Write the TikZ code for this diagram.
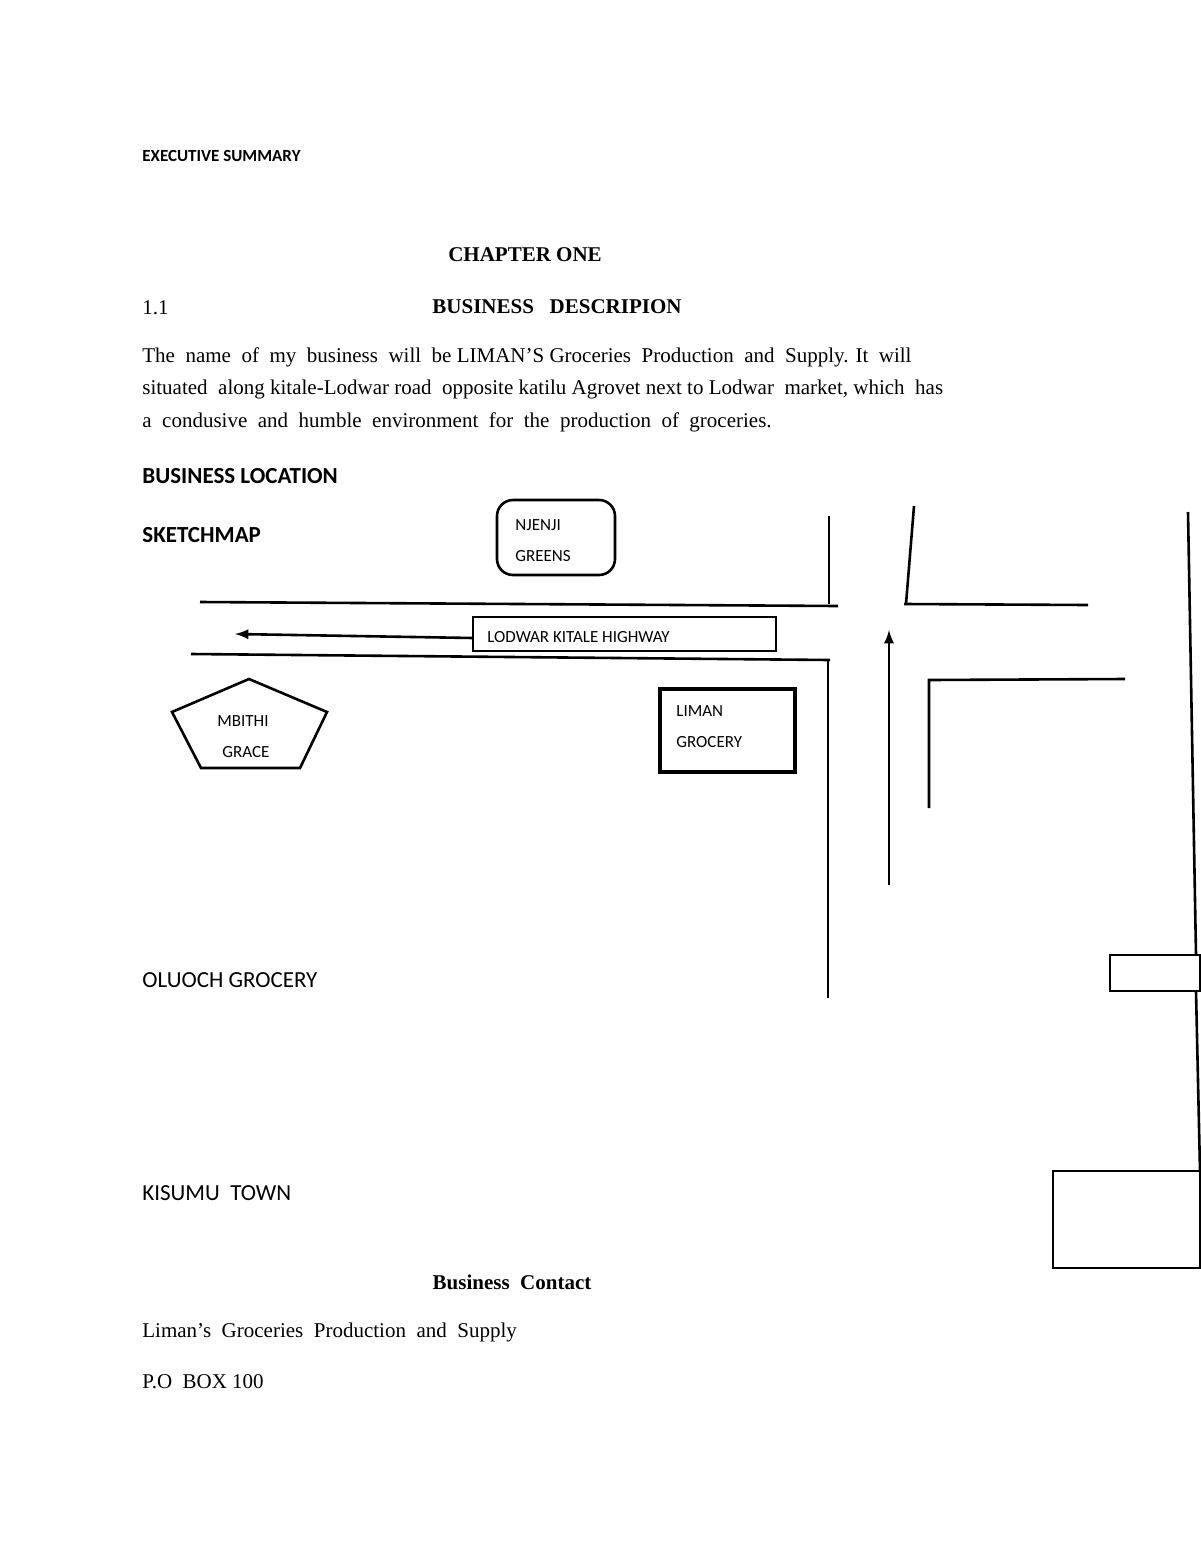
\documentclass[tikz,border=0pt]{standalone}
\usepackage{fontspec}
\setmainfont{Liberation Serif}
\newfontfamily\calib{Carlito}
\begin{document}
\begin{tikzpicture}[x=0.5pt,y=-0.5pt,
  ln/.style={line width=1.3pt},
  tx/.style={anchor=west,inner sep=0pt},
  sm/.style={tx,font=\calib\fontsize{8.5}{10}\selectfont},
  body/.style={tx,font=\fontsize{10.5}{12}\selectfont}]
\useasboundingbox (0,0) rectangle (1200,1553);
\node[tx,font=\calib\bfseries\fontsize{8.5}{10}\selectfont] (es) at (142,156) {EXECUTIVE SUMMARY};
\node[font=\bfseries\fontsize{10.5}{12}\selectfont] (ch) at (525,255) {CHAPTER ONE};
\node[body] (n11) at (142,308) {1.1};
\node[font=\bfseries\fontsize{10.5}{12}\selectfont] (bd) at (557,307) {BUSINESS\ \ \ DESCRIPION};
\node[body,text width=450pt,align=justify] (p1) at (142,358) {The\ \ name\ \ of\ \ my\ \ business\ \ will\ \ be LIMAN'S Groceries\ \ Production\ \ and\ \ Supply. It\ \ will\strut};
\node[body,text width=452pt,align=justify] (p2) at (142,390) {situated\ \ along kitale-Lodwar road\ \ opposite katilu Agrovet next to Lodwar\ \ market, which\ \ has\strut};
\node[body] (p3) at (142,422) {a\ \ condusive\ \ and\ \ humble\ \ environment\ \ for\ \ the\ \ production\ \ of\ \ groceries.};
\node[tx,font=\calib\bfseries\fontsize{11.5}{13}\selectfont] (bl) at (142,476) {BUSINESS LOCATION};
\node[tx,font=\calib\bfseries\fontsize{11.5}{13}\selectfont] (skm) at (142,535) {SKETCHMAP};
% NJENJI
\draw[ln,rounded corners=8pt] (497,500) rectangle (615,575);
\node[sm] (nj1) at (515,525) {NJENJI};
\node[sm] (nj2) at (515,556) {GREENS};
% roads
\draw[ln] (200,602) -- (838,606);
\draw[ln] (191,654) -- (830,660);
\draw[ln] (829,516) -- (829,604);
\draw[ln] (828,660) -- (828,998);
\draw[ln] (914,506) -- (906,604);
\draw[ln] (904,604) -- (1088,605);
\draw[ln] (1125,679) -- (929,680) -- (929,808);
\draw[ln,-latex] (889,885) -- (889,630);
\coordinate (al) at (235,634);
\draw[ln] (473,617) rectangle (776,651);
\node[sm] (hw) at (487,637) {LODWAR KITALE HIGHWAY};
\draw[ln,-latex] (473,638) -- (al);
% LIMAN
\draw[line width=1.6pt] (660,689) rectangle (795,772);
\node[sm] (lg1) at (676,711) {LIMAN};
\node[sm] (lg2) at (676,742) {GROCERY};
% MBITHI
\draw[ln] (249,679) -- (327,712) -- (300,768) -- (201,768) -- (172,712) -- cycle;
\node[sm] (mb1) at (217,721) {MBITHI};
\node[sm] (mb2) at (222,752) {GRACE};
% right edge
\draw[ln] (1188,512) -- (1196,955);
\draw[ln] (1196,991) -- (1200,1171);
\draw[ln] (1110,955) rectangle (1200,991);
\draw[ln] (1053,1171) rectangle (1200,1268);
\node[tx,font=\calib\fontsize{11.5}{13}\selectfont] (ol) at (142,980) {OLUOCH GROCERY};
\node[tx,font=\calib\fontsize{11.5}{13}\selectfont] (ks) at (142,1193) {KISUMU\ \ TOWN};
\node[font=\bfseries\fontsize{10.5}{12}\selectfont] (bc) at (512,1282) {Business\ \ Contact};
\node[body] (lm) at (142,1332) {Liman's\ \ Groceries\ \ Production\ \ and\ \ Supply};
\node[body] (po) at (142,1382) {P.O\ \ BOX 100};
\end{tikzpicture}
\end{document}
